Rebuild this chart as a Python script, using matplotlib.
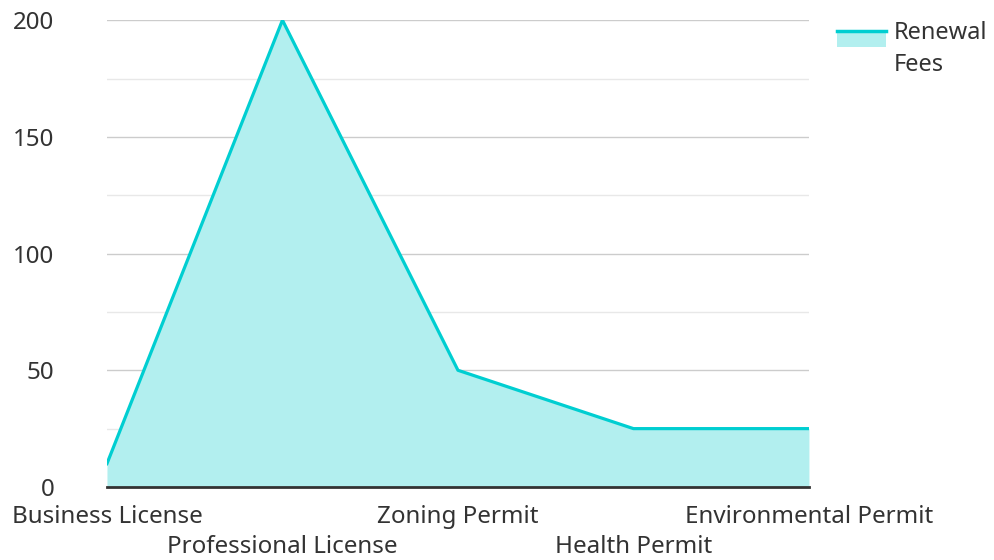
import matplotlib.pyplot as plt
from matplotlib.legend_handler import HandlerBase
from matplotlib.patches import Rectangle
from matplotlib.lines import Line2D

plt.rcParams['font.family'] = ['Noto Sans', 'DejaVu Sans']

permisos = ["Business License", "Professional License", "Zoning Permit",
            "Health Permit", "Environmental Permit"]
tarifas = [10, 200, 50, 25, 25]
serie = "Renewal\nFees"

COLOR_LINEA = '#00CED1'
COLOR_AREA = '#B2EFEF'


class HandlerArea(HandlerBase):
    # linea encima del relleno, como en la leyenda original
    def create_artists(self, legend, orig_handle, xdescent, ydescent,
                       width, height, fontsize, trans):
        top = height * 1.65 - ydescent
        rect = Rectangle((-xdescent, top - height * 0.95), width, height * 0.95,
                         facecolor=COLOR_AREA, edgecolor='none', transform=trans)
        linea = Line2D([-xdescent, width - xdescent], [top, top],
                       color=COLOR_LINEA, linewidth=2.5, transform=trans)
        return [rect, linea]


fig = plt.figure(figsize=(9.95, 5.6), dpi=100)
ax = fig.add_axes([0.1075, 0.1304, 0.7055, 0.8336])

x = list(range(len(permisos)))
ax.fill_between(x, tarifas, 0, color=COLOR_AREA, linewidth=0, zorder=2)
ax.plot(x, tarifas, color=COLOR_LINEA, linewidth=2.3, zorder=3)

ax.set_xlim(0, len(permisos) - 1)
ax.set_ylim(0, 200)
ax.set_yticks([0, 50, 100, 150, 200])
ax.set_yticks([25, 75, 125, 175], minor=True)
ax.grid(True, which='major', axis='y', color='#cccccc', linewidth=1, zorder=1)
ax.grid(True, which='minor', axis='y', color='#e8e8e8', linewidth=1, zorder=1)
ax.set_axisbelow(True)

ax.set_xticks(x)
ax.set_xticklabels(permisos)
for i, t in enumerate(ax.get_xticklabels()):
    if i % 2 == 1:
        t.set_y(-0.064)

for s in ['top', 'right', 'left']:
    ax.spines[s].set_visible(False)
ax.spines['bottom'].set_color('#333333')
ax.spines['bottom'].set_linewidth(2)
ax.spines['bottom'].set_zorder(4)

ax.tick_params(axis='both', which='both', length=0, labelsize=17.4, colors='#333333')
ax.tick_params(axis='y', pad=38)
ax.tick_params(axis='x', pad=13)

leg = fig.legend([object()], [serie], handler_map={object: HandlerArea()},
                 loc='upper left', bbox_to_anchor=(0.82, 1.0), frameon=False,
                 fontsize=17, handlelength=2.05, handletextpad=0.35)
for t in leg.get_texts():
    t.set_color('#333333')
    t.set_linespacing(1.45)

plt.savefig('out.png', dpi=100)
plt.close()
